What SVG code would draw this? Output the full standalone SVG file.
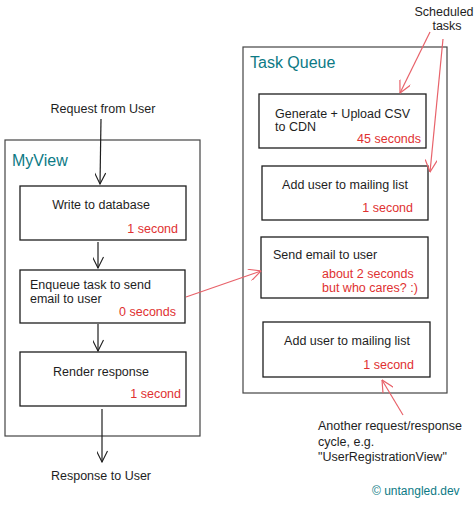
<svg xmlns="http://www.w3.org/2000/svg" width="474" height="506" viewBox="0 0 474 506">
<defs>
<style>
.box{fill:#fff;stroke:#1e1e1e;stroke-width:1.3}
.frame{fill:none;stroke:#444;stroke-width:1.2}
.t{font-family:"Liberation Sans",Arial,sans-serif;font-size:12.5px;fill:#1e1e1e}
.r{font-family:"Liberation Sans",Arial,sans-serif;font-size:12.5px;fill:#e03131}
.h{font-family:"Liberation Sans",Arial,sans-serif;font-size:16px;fill:#0c7a85}
.c{font-family:"Liberation Sans",Arial,sans-serif;font-size:12px;fill:#0c7a85}
.bl{stroke:#1e1e1e;stroke-width:1.2;fill:none}
.rd{stroke:#e8626a;stroke-width:1.2;fill:none}
</style>
<marker id="ab" viewBox="0 0 10 10" refX="10" refY="5" markerWidth="13" markerHeight="11" markerUnits="userSpaceOnUse" orient="auto">
<path d="M0,0 L10,5 L0,10" fill="none" stroke="#1e1e1e" stroke-width="1"/>
</marker>
<marker id="ar" viewBox="0 0 10 10" refX="10" refY="5" markerWidth="13" markerHeight="12" markerUnits="userSpaceOnUse" orient="auto">
<path d="M0,0 L10,5 L0,10" fill="none" stroke="#e8626a" stroke-width="1"/>
</marker>
</defs>
<rect width="474" height="506" fill="#fff"/>

<g id="myview">
<rect class="frame" x="5" y="140" width="195" height="296"/>
<text class="h" x="12" y="166">MyView</text>
</g>
<g id="taskqueue">
<rect class="frame" x="243" y="47" width="204" height="346"/>
<text class="h" x="250" y="68">Task Queue</text>
</g>

<g id="write-db">
<rect class="box" x="20" y="186" width="166" height="54"/>
<text class="t" x="101" y="209" text-anchor="middle">Write to database</text>
<text class="r" x="178" y="233" text-anchor="end">1 second</text>
</g>
<g id="enqueue">
<rect class="box" x="20" y="270" width="165" height="53"/>
<text class="t" x="30" y="289">Enqueue task to send</text>
<text class="t" x="30" y="303">email to user</text>
<text class="r" x="176" y="316" text-anchor="end">0 seconds</text>
</g>
<g id="render">
<rect class="box" x="20" y="352" width="166" height="54"/>
<text class="t" x="101" y="376" text-anchor="middle">Render response</text>
<text class="r" x="181" y="398" text-anchor="end">1 second</text>
</g>

<g id="csv">
<rect class="box" x="259" y="94" width="167" height="54"/>
<text class="t" x="275" y="118">Generate + Upload CSV</text>
<text class="t" x="275" y="131">to CDN</text>
<text class="r" x="421" y="143" text-anchor="end">45 seconds</text>
</g>
<g id="mailing1">
<rect class="box" x="262" y="166" width="166" height="54"/>
<text class="t" x="345" y="189" text-anchor="middle">Add user to mailing list</text>
<text class="r" x="413" y="212" text-anchor="end">1 second</text>
</g>
<g id="send-email">
<rect class="box" x="261" y="237" width="167" height="61"/>
<text class="t" x="273" y="259">Send email to user</text>
<text class="r" x="322" y="278">about 2 seconds</text>
<text class="r" x="322" y="292">but who cares? :)</text>
</g>
<g id="mailing2">
<rect class="box" x="263" y="322" width="167" height="55"/>
<text class="t" x="347" y="345" text-anchor="middle">Add user to mailing list</text>
<text class="r" x="414" y="369" text-anchor="end">1 second</text>
</g>

<g id="labels">
<text class="t" x="444" y="16" text-anchor="middle">Scheduled</text>
<text class="t" x="447" y="30" text-anchor="middle">tasks</text>
<text class="t" x="103" y="113" text-anchor="middle">Request from User</text>
<text class="t" x="101" y="480" text-anchor="middle">Response to User</text>
<text class="t" x="318" y="430">Another request/response</text>
<text class="t" x="318" y="446">cycle, e.g.</text>
<text class="t" x="318" y="461">"UserRegistrationView"</text>
<text class="c" x="372" y="495">© untangled.dev</text>
</g>

<g id="connectors">
<line class="bl" x1="101" y1="119" x2="100" y2="184" marker-end="url(#ab)"/>
<line class="bl" x1="98" y1="242" x2="98" y2="268" marker-end="url(#ab)"/>
<line class="bl" x1="98" y1="324" x2="98" y2="351" marker-end="url(#ab)"/>
<line class="bl" x1="102" y1="409" x2="102" y2="462" marker-end="url(#ab)"/>
<line class="rd" x1="186" y1="297" x2="261" y2="271" marker-end="url(#ar)"/>
<line class="rd" x1="430" y1="32" x2="400" y2="93" marker-end="url(#ar)"/>
<line class="rd" x1="443" y1="39" x2="430" y2="172" marker-end="url(#ar)"/>
<line class="rd" x1="403" y1="415" x2="382" y2="380" marker-end="url(#ar)"/>
</g>
</svg>
